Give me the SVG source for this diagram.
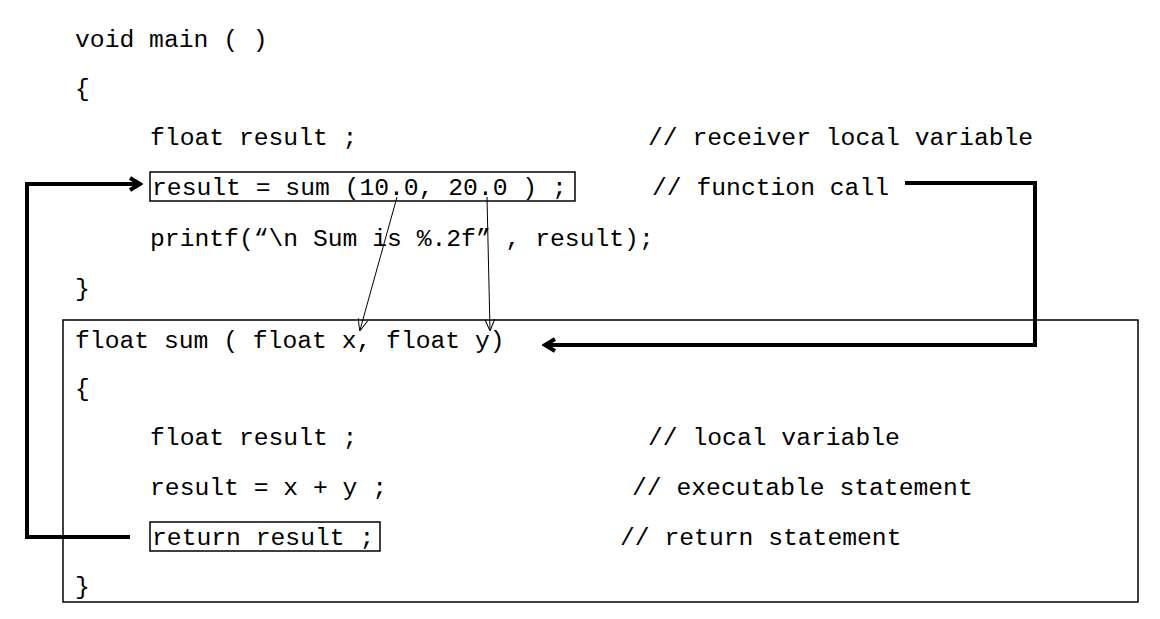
<svg xmlns="http://www.w3.org/2000/svg" width="1160" height="619" viewBox="0 0 1160 619">
<style>
text{font-family:"Liberation Mono","Courier New",monospace;font-size:24.7px;fill:#000}
.box{fill:none;stroke:#000;stroke-width:1.5}
.thick{fill:none;stroke:#000;stroke-width:4}
.thin{fill:none;stroke:#000;stroke-width:1}
</style>
<defs>
<marker id="big" markerWidth="16" markerHeight="16" refX="13" refY="8" orient="auto" markerUnits="userSpaceOnUse"><path d="M3,2 L13,8 L3,14" fill="none" stroke="#000" stroke-width="4"/></marker>
<marker id="sm" markerWidth="12" markerHeight="10" refX="11" refY="5" orient="auto" markerUnits="userSpaceOnUse"><path d="M0,0 L12,5 L0,10" fill="none" stroke="#000"/></marker>
</defs>
<rect class="box" x="63" y="320" width="1075" height="282"/>
<g id="code">
<text x="75" y="47">void main ( )</text>
<text x="75" y="96">{</text>
<text x="150" y="145">float result ;</text>
<text x="648" y="145">// receiver local variable</text>
<g id="callbox"><rect class="box" x="150" y="172" width="425" height="29"/>
<text x="152" y="195">result = sum (10.0, 20.0 ) ;</text></g>
<text x="652" y="195">// function call</text>
<text x="150" y="246">printf(“\n Sum is %.2f” , result);</text>
<text x="75" y="296">}</text>
<text x="75" y="348">float sum ( float x, float y)</text>
<text x="75" y="396">{</text>
<text x="150" y="445">float result ;</text>
<text x="648" y="445">// local variable</text>
<text x="150" y="495">result = x + y ;</text>
<text x="632" y="495">// executable statement</text>
<g id="retbox"><rect class="box" x="150" y="522" width="230" height="29"/>
<text x="152" y="545">return result ;</text></g>
<text x="620" y="545">// return statement</text>
<text x="75" y="594">}</text>
</g>
<g id="connectors">
<path class="thick" d="M130,537 H27 V184 H140" marker-end="url(#big)"/>
<path class="thick" d="M905,183 H1035 V345 H545" marker-end="url(#big)"/>
<path class="thin" d="M397,197 L360,330" marker-end="url(#sm)"/>
<path class="thin" d="M487,197 L490,330" marker-end="url(#sm)"/>
</g>
</svg>
